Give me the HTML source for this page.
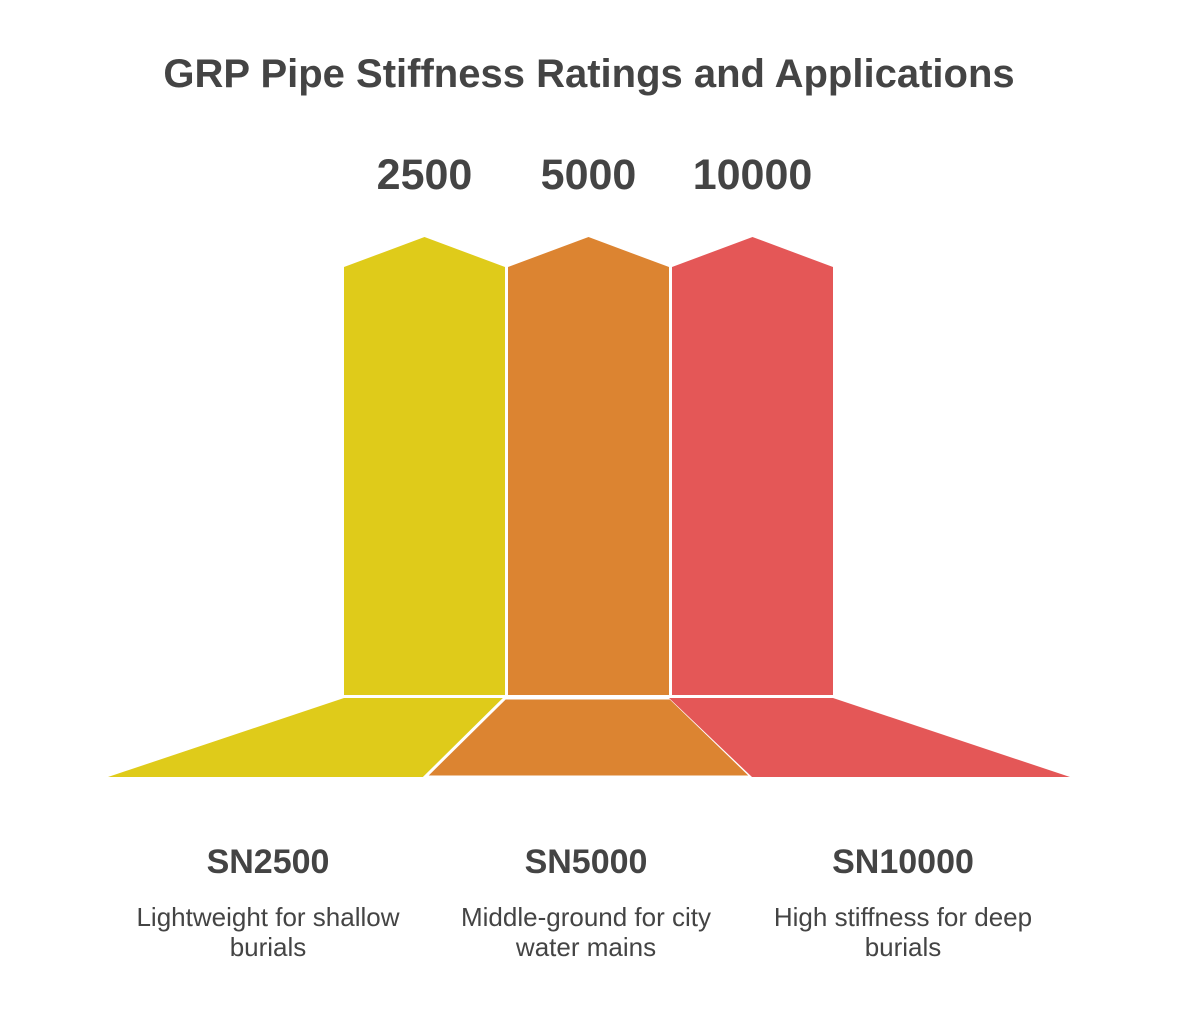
<!DOCTYPE html>
<html><head><meta charset="utf-8"><style>
body{margin:0;background:#fff}
svg{display:block}
text{font-family:"Liberation Sans",sans-serif;fill:#444}
</style></head><body>
<svg id="chart" width="1200" height="1026" viewBox="0 0 1200 1026">
<text x="589" y="87" text-anchor="middle" font-size="40" font-weight="bold">GRP Pipe Stiffness Ratings and Applications</text>
<g id="marks"></g>
</svg>
<script>
const ratings = ["2500", "5000", "10000"];
const labels = ["SN2500", "SN5000", "SN10000"];
const desc1 = ["Lightweight for shallow", "Middle-ground for city", "High stiffness for deep"];
const desc2 = ["burials", "water mains", "burials"];
const colors = ["#DFCB1A", "#DC8431", "#E45757"];
const labelCenters = [268, 586, 903];
const ns = "http://www.w3.org/2000/svg";
const g = document.getElementById("marks");
function mk(tag, attrs){const e=document.createElementNS(ns,tag);for(const k in attrs)e.setAttribute(k,attrs[k]);g.appendChild(e);return e;}
const colX = i => 344 + i*164, colW = 161;
const baseBottom = [[108,425],[425,752],[752,1070]];
ratings.forEach((r,i)=>{
  const x0 = colX(i), x1 = x0+colW, xm = (x0+x1)/2;
  const col = mk("polygon",{points:`${x0},267 ${xm},237 ${x1},267 ${x1},695 ${x0},695`,fill:colors[i]});
  
  
  const [b0,b1] = baseBottom[i];
  const tx0 = i===0 ? x0 : x0-3, tx1 = i===2 ? x1 : x1+1.5;
  const base = mk("polygon",{points:`${tx0},698 ${tx1},698 ${b1},777 ${b0},777`,fill:colors[i],stroke:i===1?"#fff":"none","stroke-width":3});
  
  
  const t = mk("text",{x:xm,y:189,"text-anchor":"middle","font-size":43,"font-weight":"bold"});
  t.textContent = r;
  
  
  const c = labelCenters[i];
  const l = mk("text",{x:c,y:873,"text-anchor":"middle","font-size":34,"font-weight":"bold"});
  l.textContent = labels[i];
  
  
  const d1 = mk("text",{x:c,y:926,"text-anchor":"middle","font-size":26});
  d1.textContent = desc1[i];
  
  
  const d2 = mk("text",{x:c,y:956,"text-anchor":"middle","font-size":26});
  d2.textContent = desc2[i];
  
  
});
</script>
</body></html>
